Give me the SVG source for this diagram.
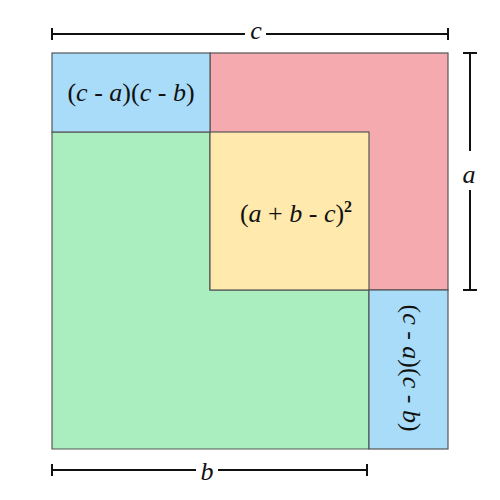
<svg xmlns="http://www.w3.org/2000/svg" width="500" height="500" viewBox="0 0 500 500">
<style>
text{font-family:'Liberation Serif','Times New Roman',serif;font-size:26px;fill:#111}
.i{font-style:italic}
.dim{stroke:#111;stroke-width:2;fill:none}
.r{stroke:#555;stroke-width:1.2}
</style>
<rect width="500" height="500" fill="#fff"/>
<g id="red"><rect class="r" x="210" y="53" width="238" height="237" fill="#f5aaaf"/></g>
<g id="green"><polygon class="r" points="52,132 210,132 210,290 369,290 369,449 52,449" fill="#aaedbf"/></g>
<g id="yellow"><rect class="r" x="210" y="132" width="159" height="158" fill="#ffe9ad"/>
<text x="296" y="222" text-anchor="middle">(<tspan class="i">a</tspan> + <tspan class="i">b</tspan> - <tspan class="i">c</tspan>)<tspan font-size="16" dy="-10" font-weight="bold">2</tspan></text></g>
<g id="blue1"><rect class="r" x="52" y="53" width="158" height="79" fill="#a9dcf8"/>
<text x="131" y="101" text-anchor="middle">(<tspan class="i">c</tspan> - <tspan class="i">a</tspan>)(<tspan class="i">c</tspan> - <tspan class="i">b</tspan>)</text></g>
<g id="blue2"><rect class="r" x="369" y="290" width="79" height="159" fill="#a9dcf8"/>
<text transform="translate(403,368) rotate(90)" text-anchor="middle">(<tspan class="i">c</tspan> - <tspan class="i">a</tspan>)(<tspan class="i">c</tspan> - <tspan class="i">b</tspan>)</text></g>
<g id="connectors">
<path class="dim" d="M52,34H245M266,34H448M52,28V40M448,28V40"/>
<path class="dim" d="M470,53V151M470,190V290M463,53H477M463,290H477"/>
<path class="dim" d="M52,470H196M218,470H367M52,464V476M367,464V476"/>
</g>
<text class="i" x="256" y="39" text-anchor="middle">c</text>
<text class="i" x="469" y="183" text-anchor="middle">a</text>
<text class="i" x="207" y="480" text-anchor="middle">b</text>
</svg>
